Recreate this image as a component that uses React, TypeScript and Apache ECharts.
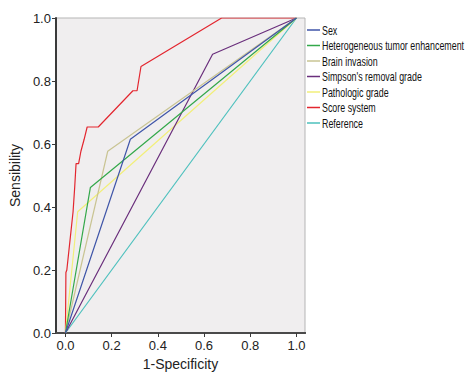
import React, { useEffect, useRef } from "react";
import * as echarts from "echarts";

const seriesNames = [
  "Sex",
  "Heterogeneous tumor enhancement",
  "Brain invasion",
  "Simpson's removal grade",
  "Pathologic grade",
  "Score system",
  "Reference",
];

const seriesColors = ["#3f55a8", "#33a84a", "#c9c493", "#6a2f7c", "#f2ef7a", "#e3262f", "#4cc0bd"];

// [1-Specificity, Sensitivity]
const sexRoc = [[0, 0], [0.281, 0.615], [1, 1]];
const heteroRoc = [[0, 0], [0.108, 0.462], [1, 1]];
const brainRoc = [[0, 0], [0.183, 0.577], [1, 1]];
const simpsonRoc = [[0, 0], [0.637, 0.885], [1, 1]];
const pathologicRoc = [[0, 0], [0.053, 0.385], [1, 1]];
const scoreRoc = [
  [0, 0], [0.002, 0.192], [0.006, 0.2], [0.033, 0.385], [0.04, 0.462],
  [0.046, 0.538], [0.057, 0.538], [0.067, 0.577], [0.081, 0.615], [0.094, 0.654],
  [0.142, 0.654], [0.292, 0.769], [0.31, 0.769], [0.327, 0.846], [0.676, 1], [1, 1],
];
const referenceRoc = [[0, 0], [1, 1]];

const allData = [sexRoc, heteroRoc, brainRoc, simpsonRoc, pathologicRoc, scoreRoc, referenceRoc];
const tickValues = [0, 0.2, 0.4, 0.6, 0.8, 1.0];

export default function App() {
  const ref = useRef<HTMLDivElement>(null);
  useEffect(() => {
    if (!ref.current) return;
    const chart = echarts.init(ref.current, null, { renderer: "svg" });
    const axisFont = { fontFamily: "Liberation Sans, Arial, sans-serif", fontSize: 13, color: "#222" };
    const legendTop = 30;
    const legendStep = 15.5;
    const legendGraphics: any[] = [];
    seriesNames.forEach((name, i) => {
      const y = legendTop + i * legendStep;
      legendGraphics.push({
        type: "line",
        shape: { x1: 307, y1: y, x2: 320, y2: y },
        style: { stroke: seriesColors[i], lineWidth: 1.5 },
      });
      legendGraphics.push({
        type: "text",
        x: 322,
        y: y,
        scaleX: 0.74,
        style: {
          text: name,
          font: "12px 'Liberation Sans', Arial, sans-serif",
          fill: "#111",
          verticalAlign: "middle",
          align: "left",
        },
      });
    });
    chart.setOption({
      animation: false,
      backgroundColor: "#ffffff",
      grid: {
        left: 42,
        right: 169,
        top: 18,
        bottom: 54,
        show: true,
        backgroundColor: "#f0eeef",
        borderColor: "#b5b5b5",
        borderWidth: 1,
      },
      graphic: legendGraphics,
      xAxis: [
        {
          type: "value",
          min: -0.041,
          max: 1.037,
          name: "1-Specificity",
          nameLocation: "middle",
          nameGap: 23,
          nameTextStyle: { ...axisFont, fontSize: 14 },
          axisLine: { show: true, onZero: false, lineStyle: { color: "#3a3a3a", width: 2 } },
          axisTick: { show: true, length: 4, customValues: tickValues, lineStyle: { color: "#3a3a3a" } },
          axisLabel: { ...axisFont, margin: 6, customValues: tickValues, formatter: (v: number) => v.toFixed(1) },
          splitLine: { show: false },
        },
        {
          type: "value",
          position: "top",
          min: -0.041,
          max: 1.037,
          axisLine: { show: true, lineStyle: { color: "#4a4a4a", width: 2 } },
          axisTick: { show: false },
          axisLabel: { show: false },
          splitLine: { show: false },
        },
      ],
      yAxis: {
        type: "value",
        min: 0,
        max: 1,
        interval: 0.2,
        name: "Sensibility",
        nameLocation: "middle",
        nameGap: 30,
        nameTextStyle: { ...axisFont, fontSize: 14 },
        axisLine: { show: true, onZero: false, lineStyle: { color: "#3a3a3a", width: 2 } },
        axisTick: { show: true, length: 4, lineStyle: { color: "#3a3a3a" } },
        axisLabel: { ...axisFont, margin: 5, formatter: (v: number) => v.toFixed(1) },
        splitLine: { show: false },
      },
      series: allData.map((d, i) => ({
        name: seriesNames[i],
        type: "line",
        data: d,
        xAxisIndex: 0,
        symbol: "none",
        color: seriesColors[i],
        lineStyle: { color: seriesColors[i], width: 1.2 },
        z: 10 - i,
      })),
    });
    return () => chart.dispose();
  }, []);
  return <div ref={ref} style={{ width: 474, height: 387, position: "absolute", left: 0, top: 0 }} />;
}
